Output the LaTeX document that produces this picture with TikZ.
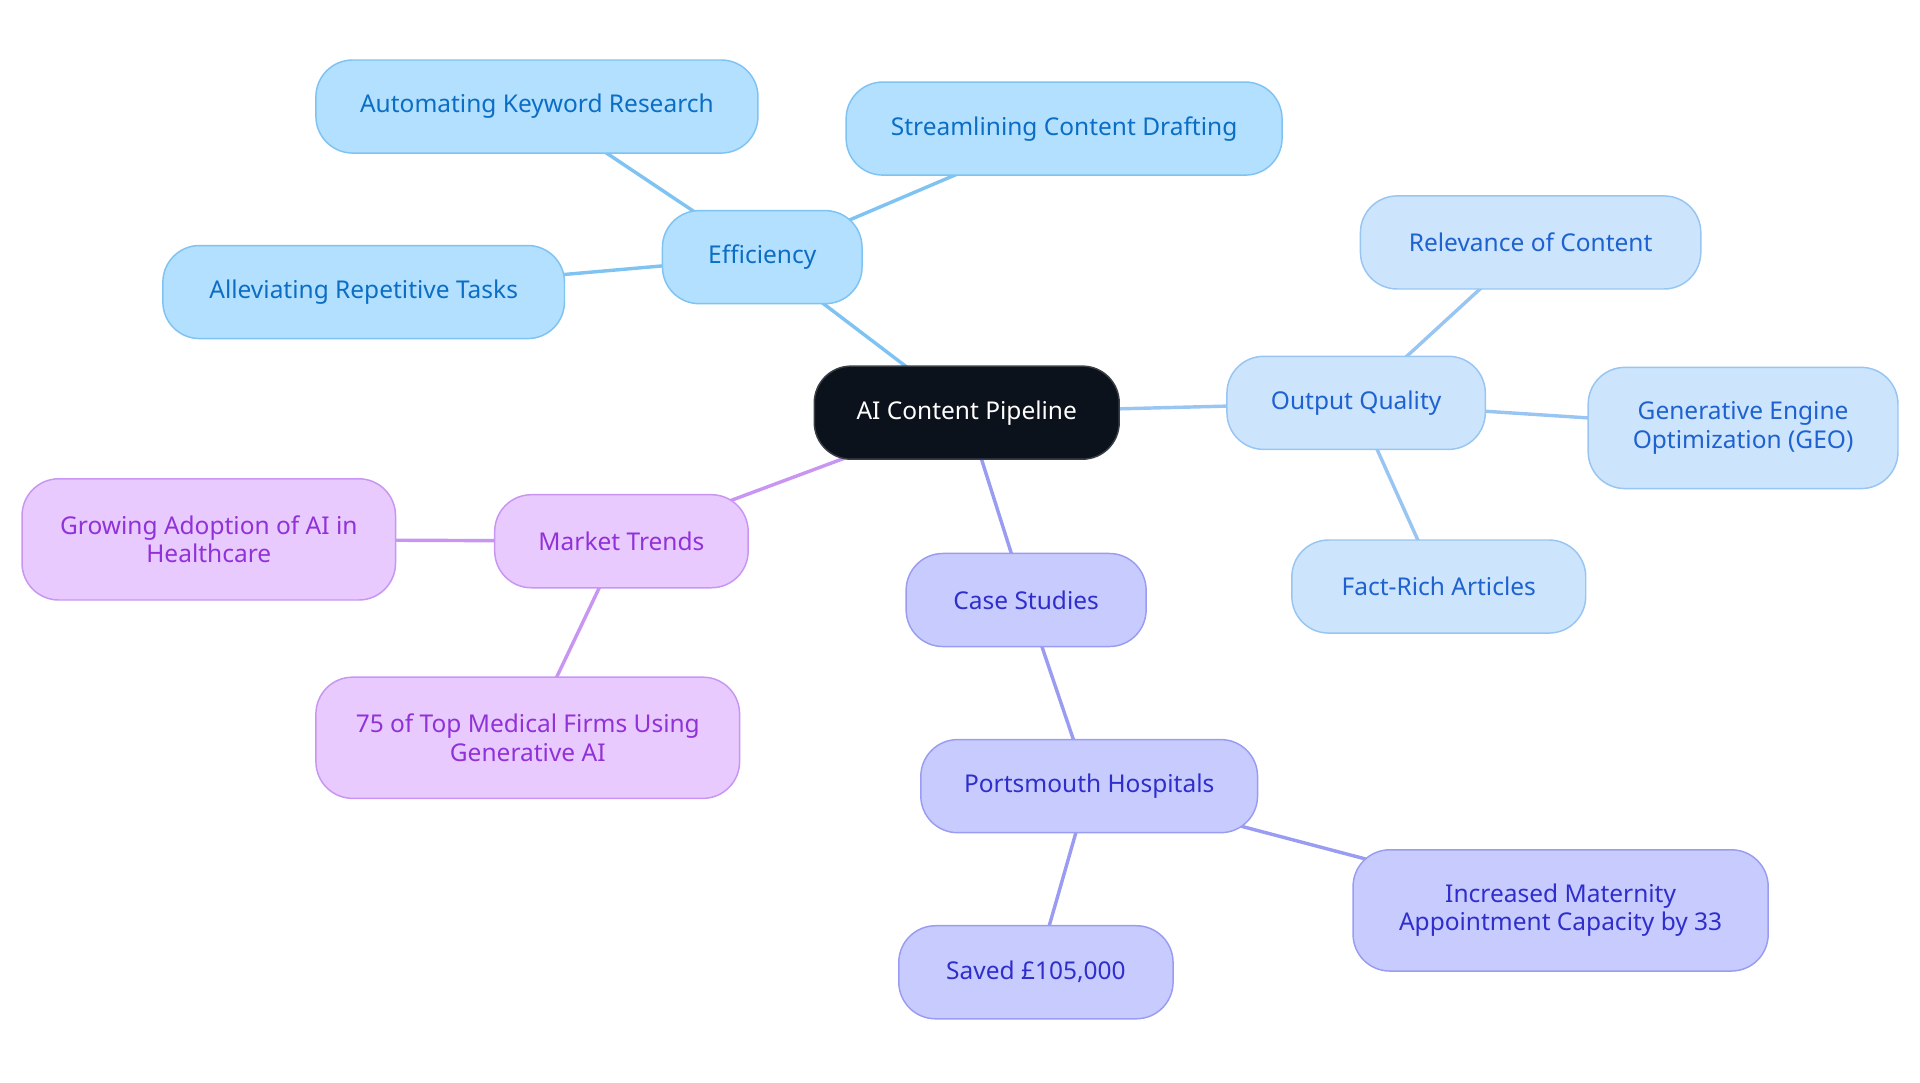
\documentclass[tikz,border=0pt]{standalone}
\usepackage{fontspec}
\setmainfont{Noto Sans}
\usetikzlibrary{backgrounds}
\definecolor{effFill}{HTML}{B3E0FF}
\definecolor{effLine}{HTML}{7EC3F2}
\definecolor{effText}{HTML}{0B6EC4}
\definecolor{outFill}{HTML}{CCE4FC}
\definecolor{outLine}{HTML}{98C5F2}
\definecolor{outText}{HTML}{1E62CF}
\definecolor{mktFill}{HTML}{E8CAFE}
\definecolor{mktLine}{HTML}{C896F2}
\definecolor{mktText}{HTML}{9131D8}
\definecolor{casFill}{HTML}{C8CBFE}
\definecolor{casLine}{HTML}{9A9CF2}
\definecolor{casText}{HTML}{2F2ECB}
\definecolor{rootFill}{HTML}{0C121B}
\definecolor{rootLine}{HTML}{3A3F47}
\tikzset{
  base/.style={rectangle, rounded corners=30pt, line width=1.2pt, align=center,
    inner sep=0pt, minimum height=76pt, font=\fontsize{20}{23}\selectfont},
  tall/.style={minimum height=99pt},
  effnode/.style={base, fill=effFill, draw=effLine, text=effText},
  outnode/.style={base, fill=outFill, draw=outLine, text=outText},
  mktnode/.style={base, fill=mktFill, draw=mktLine, text=mktText},
  casnode/.style={base, fill=casFill, draw=casLine, text=casText},
  rootnode/.style={base, fill=rootFill, draw=rootLine, text=white},
  link/.style={line width=2.8pt},
  efflink/.style={link, draw=effLine},
  outlink/.style={link, draw=outLine},
  mktlink/.style={link, draw=mktLine},
  caslink/.style={link, draw=casLine}
}
\begin{document}
\begin{tikzpicture}[x=1pt,y=-1pt]
\useasboundingbox (0,0) rectangle (1568,884);
\node[rootnode, minimum width=249pt] (root) at (789.5,337) {AI Content Pipeline};

\node[effnode, minimum width=163pt] (eff) at (622.5,210) {Efficiency};
\node[effnode, minimum width=361pt] (akr) at (438.5,87) {Automating Keyword Research};
\node[effnode, minimum width=356pt] (scd) at (869,105) {Streamlining Content Drafting};
\node[effnode, minimum width=328pt] (art) at (297,238.5) {Alleviating Repetitive Tasks};

\node[outnode, minimum width=211pt] (out) at (1107.5,329) {Output Quality};
\node[outnode, minimum width=278pt] (roc) at (1250,198) {Relevance of Content};
\node[outnode, tall, minimum width=253pt] (geo) at (1423.5,349.5) {Generative Engine\\Optimization (GEO)};
\node[outnode, minimum width=240pt] (fra) at (1175,479) {Fact-Rich Articles};

\node[mktnode, minimum width=207pt] (mkt) at (507.5,442) {Market Trends};
\node[mktnode, tall, minimum width=305pt] (gro) at (170.5,440.5) {Growing Adoption of AI in\\Healthcare};
\node[mktnode, tall, minimum width=346pt] (top) at (431,602.5) {75 of Top Medical Firms Using\\Generative AI};

\node[casnode, minimum width=196pt] (cas) at (838,490) {Case Studies};
\node[casnode, minimum width=275pt] (por) at (889.5,642) {Portsmouth Hospitals};
\node[casnode, tall, minimum width=339pt] (inc) at (1274.5,743.5) {Increased Maternity\\Appointment Capacity by 33};
\node[casnode, minimum width=224pt] (sav) at (846,794) {Saved £105,000};

\begin{scope}[on background layer]
\draw[efflink] (root.center) -- (eff.center);
\draw[efflink] (eff.center) -- (akr.center);
\draw[efflink] (eff.center) -- (scd.center);
\draw[efflink] (eff.center) -- (art.center);
\draw[outlink] (root.center) -- (out.center);
\draw[outlink] (out.center) -- (roc.center);
\draw[outlink] (out.center) -- (geo.center);
\draw[outlink] (out.center) -- (fra.center);
\draw[mktlink] (root.center) -- (mkt.center);
\draw[mktlink] (mkt.center) -- (gro.center);
\draw[mktlink] (mkt.center) -- (top.center);
\draw[caslink] (root.center) -- (cas.center);
\draw[caslink] (cas.center) -- (por.center);
\draw[caslink] (por.center) -- (inc.center);
\draw[caslink] (por.center) -- (sav.center);
\end{scope}
\end{tikzpicture}
\end{document}
